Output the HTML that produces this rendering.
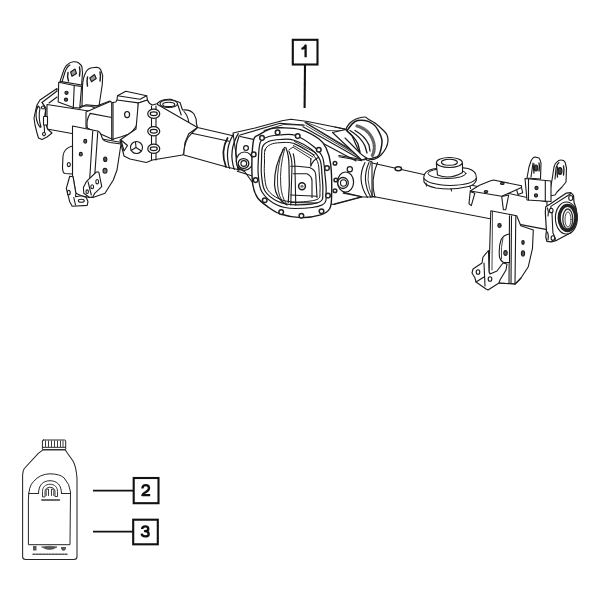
<!DOCTYPE html>
<html><head><meta charset="utf-8">
<style>
html,body{margin:0;padding:0;background:#fff;width:600px;height:600px;overflow:hidden}
svg{position:absolute;left:0;top:0}
.t{font-family:"Liberation Sans",sans-serif;font-weight:bold}
</style></head><body>
<svg width="600" height="600" viewBox="0 0 600 600">
<g fill="#fff" stroke="#1a1a1a" stroke-width="1.1" stroke-linejoin="round" stroke-linecap="round">
<!-- LEFT TUBE -->
<path d="M47,104.5 L185,126 L185,154 L47,129 Z"/>
<path d="M49,103 L57,97 M80,106.5 Q88,104 95,108" fill="none"/>
<!-- left flange -->
<path d="M57,88.5 L40,100 L37,105 L35.5,111 L34,118 L35,125 L37,133 L38.5,138 L42,139.5 L47,137 L52,133 L47.5,129 Q44,120 46,108 L42,102.5 L57,91 Z"/>
<path d="M42,102.5 Q47,108 45,115 L44,125 Q45,132 44,136" fill="none"/>
<path d="M38,106 Q34,115 38,124 Q40,128 41,127 Q38,118 40,108 Z"/>
<rect x="43.5" y="116.5" width="4" height="8.5" rx="0.5"/>
<circle cx="43" cy="107.5" r="1.5"/>
<circle cx="44" cy="134" r="1.5"/>
<!-- upper tab 2 (back) -->
<path d="M82.5,86 Q83,78 85.25,73.6 Q87,69 90.75,68 L96.25,67.2 Q100,67.5 100.8,70 L102.7,75.4 L102.2,85 L99,106 L82,106 Z"/>
<path d="M89.8,78 L94.5,74.5 L96.25,78.5 L91.5,81.8 Z" stroke-width="1.1" fill="#999"/>
<path d="M87.5,77 Q86.5,81 87.5,86 M100,72 Q101,76 100,81" fill="none" stroke-width="1.4"/>
<!-- upper tab 1 -->
<path d="M60,81.4 L63.25,71.75 Q65,66 67.8,64.4 Q70,62 73.3,61.7 Q77,61.5 78.8,63 Q81.5,65 82,67.2 L82.5,72.7 L81.6,85 Z"/>
<path d="M62,81.8 L65,72 Q67,66.5 70,65" fill="none"/>
<path d="M70.6,72 L75,69 L76.5,73.5 L72,76.3 Z" stroke-width="1.1" fill="#999"/>
<path d="M68,72.5 Q67,76.5 68.5,81 M79.5,67 Q80.5,71 79.5,76" fill="none" stroke-width="1.4"/>
<path d="M58.7,82.3 L74.25,85.5 L81.6,86.4 L79.75,108 L73.3,107.5 L58.2,102 Z"/>
<path d="M74.25,85.5 L73.3,107.5" fill="none"/>
<circle cx="66.5" cy="92.8" r="1.6" fill="#555"/>
<circle cx="66" cy="99.7" r="1.6" fill="#555"/>
<path d="M79.75,108 L86.2,104.7 L97.2,105.7 L110,101" fill="none"/>
<!-- sleeve block -->
<path d="M86,112 L110.3,101.5 L113,103 L113,139.5 L86,127.6 Z"/>
<path d="M90,113.9 Q86,120 87.3,127.6 M90,113.4 L111.7,117.5" fill="none"/>
<!-- big bracket -->
<path d="M111.7,102.8 L115.8,102 L117,100 L117.5,95.8 L125.8,91.25 L146.7,95.8 L147.5,100 L138.3,102.9 L138.3,120 Q137,128 129,134 L121.3,136.8 L111.7,139.5 Z"/>
<path d="M113,102.5 L113,139.5 M117.5,95.8 L140,99.2 L146.7,95.8 M117,100 L138.3,102.9" fill="none"/>
<ellipse cx="127.1" cy="114.6" rx="2.5" ry="3.1" stroke-width="1.2"/>
<!-- ladder plate -->
<path d="M138.3,103 L147.5,100 Q149,104 152.5,105 L156.9,103.75 L160,101.25 Q165,98.5 171.25,99.4 L180,102.5 L182.5,110 Q190,109 194,114 Q197,119 196.5,124 L197.5,127.5 L188.75,133.75 L185,142.5 L183.75,153.75 L182.5,155 L152.5,160 L146.25,162.5 L130,159 L124,156 L120,140 L136,129 Z"/>
<ellipse cx="168.75" cy="103.75" rx="8.75" ry="3.75"/>
<ellipse cx="168.75" cy="104.4" rx="6" ry="2.2"/>
<path d="M177.5,104 L181.25,115" fill="none"/>
<path d="M184,111.5 Q188,116 188.75,122" fill="none"/>
<path d="M157.5,104.4 L197.5,127.5" fill="none"/>
<path d="M121,140 L127.5,145.5 L124,151 Z" fill="#fff"/><circle cx="136.5" cy="147.5" r="6"/>
<path d="M131,150.5 L136,147.5 L141.5,151 M136,147.5 L135.5,142" fill="none"/>
<path d="M151.5,106 L151.5,160 M156,106 L156,160" fill="none"/>
<g stroke-width="1.2">
<ellipse cx="153.75" cy="113.75" rx="6" ry="4.6"/>
<ellipse cx="153.75" cy="131.25" rx="6" ry="4.6"/>
<ellipse cx="153.75" cy="148.75" rx="6" ry="4.6"/>
<ellipse cx="153.75" cy="113.75" rx="3.5" ry="1.8"/>
<ellipse cx="153.75" cy="131.25" rx="3.5" ry="1.8"/>
<ellipse cx="153.75" cy="148.75" rx="3.5" ry="1.8"/>
</g>
<!-- lower bracket -->
<path d="M72.5,126 L98.5,131.25 Q100.5,132.5 102,137.5 Q103,140.5 105,141 L110,142.5 L121,144 L117,170 L113.3,180 L105,193.3 L93,197.5 L89.7,197.5 L81.3,195.8 L75.9,193.3 L73,176.7 L72.5,176 Z"/>
<path d="M92.75,131 L89.7,179 M97.75,132 L94.7,176" fill="none"/>
<ellipse cx="85.25" cy="141.25" rx="1.5" ry="1.9" fill="#666"/>
<ellipse cx="80.8" cy="154.2" rx="1.5" ry="1.8" fill="#666"/>
<ellipse cx="105.25" cy="159.25" rx="1.6" ry="2.3" fill="#555"/>
<ellipse cx="105" cy="170.8" rx="2" ry="2.4" fill="#777"/>
<path d="M72.5,146 Q64,148 63,156 L62.5,167 Q62.5,173 65,173.5 L72.5,174 Z"/>
<ellipse cx="68.8" cy="164.6" rx="1.6" ry="2"/>
<path d="M69.7,176.25 L73,176.7 L75.9,193.3 L75.5,196.7 L81.3,195.8 L86.3,197.5 L88,201.7 L87.2,205.4 L72.2,206.25 L69.7,201.7 L66.3,188.3 L68,182.5 Z"/>
<path d="M73.8,197.5 L75.5,205" fill="none"/>
<ellipse cx="68.8" cy="192.5" rx="1.4" ry="2.3"/>
<ellipse cx="81.3" cy="200.8" rx="3" ry="1.5"/>
<path d="M86.3,181.7 L96.3,172 L98.8,172 L101.75,186.7 L94.7,193.3 L93,196.7 L89.7,197.5 L83.8,193.3 L83.4,187.5 Z"/>
<path d="M88,181.7 L91.3,195" fill="none"/>
<ellipse cx="92.2" cy="186.7" rx="1.4" ry="2"/>
<ellipse cx="97.2" cy="181.7" rx="1.4" ry="2.2"/>
<ellipse cx="87.2" cy="191.7" rx="1.2" ry="1.8"/>
</g><g fill="#fff" stroke="#1a1a1a" stroke-width="1.1" stroke-linejoin="round" stroke-linecap="round">
<!-- CENTER TUBE L -->
<path d="M197.5,127.5 L233,135.7 L240,137 L240,170 L226.6,167 L183.75,155 Q184,140 191.7,133.3 Z"/>
<path d="M191.7,133.3 L229,141.3" fill="none"/>
<!-- RIGHT TUBE -->
<path d="M370,162.5 L547,202 L547,229.6 L372,196.3 Z"/>
<!-- HOUSING BODY -->
<path d="M233,133 L255,128 L282,120.7 L291,119.2 L307.5,121.5 L345,129 L346,132 L367,160 L372,162 L372,197 L362,197 L334,204.5 L331,204 L320,210 L296,214 L276,208 L262,198 L255,186 L245,172 L238,168 Z"/>
<path d="M240,135 L280,123.3 L303.3,125" fill="none"/>
<path d="M305,122.5 L366.7,160 M303,126.7 L361.7,160 M300,131 L356,161" fill="none"/><path d="M307,123.5 L364,157 M306,125.5 L362,158.5 M306,122.2 L327,130.5 L345,131" fill="none" stroke-width="0.8"/><path d="M264,130.5 L283.5,124.5 L304.5,125.2" fill="none" stroke-width="0.9"/>
<path d="M339,156.7 L361.7,160.8 M343.3,193.3 L361.7,196.7" fill="none"/>
<!-- left collar -->
<path d="M227.6,138 Q220,151 226,167" fill="none" stroke-width="1.7"/>
<path d="M233.4,134.6 Q224,149 229.5,168.4 M238.2,133.6 Q228,151 234.3,169.4 M239.2,135.5 Q233,151 238.2,170.4" fill="none" stroke-width="1.2"/>
<path d="M240.1,136.5 L255.6,139.9 M237.2,171.3 L255.6,177.1" fill="none"/>
<!-- left boss -->
<ellipse cx="244.5" cy="161.2" rx="8.2" ry="9.2" stroke-width="1.2"/>
<ellipse cx="243.5" cy="163.5" rx="5.3" ry="4.8" stroke-width="1.3"/>
<ellipse cx="243.8" cy="163.5" rx="2.9" ry="2.9"/>
<circle cx="246" cy="148.1" r="2.4" stroke-width="1.2"/>
<!-- right boss -->
<ellipse cx="345.6" cy="182.1" rx="8" ry="10.1" stroke-width="1.2"/>
<ellipse cx="343" cy="183" rx="5.3" ry="5.5" stroke-width="1.3"/>
<ellipse cx="343.5" cy="183" rx="3" ry="3.2"/>
<circle cx="349.8" cy="169.3" r="2.6" stroke-width="1.2"/>
<path d="M338.8,155.5 L364.4,160 M343.3,192.2 L361.7,196.8 M334,204 L361.7,196.8" fill="none"/>
<!-- pinion flange -->
<path d="M332.5,132.5 L346,129.5 Q356,134 360,143.5 Q364,152 366.7,158.3 L361.7,160 Z"/>
<path d="M346.0,129.5 C345.8,128.2 349.0,124.0 350.0,123.0 C351.0,122.0 354.5,119.6 356.0,119.0 C357.5,118.4 363.8,117.0 365.0,117.0 C366.2,117.0 367.0,118.4 368.0,119.0 C369.0,119.6 373.4,121.8 375.0,123.0 C376.6,124.2 382.8,129.8 384.0,131.0 C385.2,132.2 386.6,134.0 387.0,135.0 C387.4,136.0 388.1,139.7 388.0,141.0 C387.9,142.3 386.7,146.6 386.0,148.0 C385.3,149.4 382.1,153.9 381.0,155.0 C379.9,156.1 376.2,158.6 375.0,159.0 C373.8,159.4 370.5,159.6 369.0,159.0 C367.5,158.4 361.7,155.3 360.0,153.0 C358.3,150.7 353.4,138.3 352.0,136.0 C350.6,133.7 346.2,130.8 346.0,129.5 Z" stroke-width="1.2"/>
<path d="M347.0,130.5 C348.3,129.0 352.0,123.2 355.0,121.5 C358.0,119.8 362.0,120.1 365.0,120.5 C368.0,120.9 370.8,122.4 373.0,124.0 C375.2,125.6 376.5,127.2 378.0,130.0 C379.5,132.8 381.8,136.8 382.0,141.0 C382.2,145.2 380.5,152.2 379.0,155.0 C377.5,157.8 374.0,157.5 373.0,158.0" fill="none" stroke-width="1.5"/>
<path d="M357,126 Q371,130 374,144 Q375,151 372,156" fill="none" stroke="#666" stroke-width="3.2" stroke-dasharray="1.8 1.2"/>
<path d="M347,131 Q354,136 358,144 L360,152 M350,130.5 Q361,137 365,146 L367,153 M355,130.5 Q365,136 369,145 L370,151" fill="none" stroke-width="1.3"/>
<path d="M345,138 L360,153 M335,127 L346,129.5 M369,159 L373,158" fill="none"/>
<!-- right collar -->
<path d="M365,162.5 Q356,180 367.5,197.5 M369,162.5 Q361,180 371,197.5 M377.5,162.5 Q370,180 375,197.5" fill="none"/><path d="M371,162 Q364,180 373,197.5" fill="none" stroke-width="0.8"/>
<ellipse cx="398.3" cy="168.7" rx="3.2" ry="2" stroke-width="1.5"/>
<!-- COVER FLANGE -->
<path d="M253.7,139.7 C252.6,144.0 252.1,153.3 251.9,160.8 C251.8,168.3 251.9,178.5 252.8,184.6 C253.7,190.7 254.9,193.8 257.4,197.5 C259.8,201.2 263.7,203.8 267.5,206.6 C271.3,209.3 274.8,212.2 280.3,214.0 C285.8,215.8 293.8,217.4 300.5,217.6 C307.2,217.8 315.7,216.4 320.6,214.9 C325.5,213.4 328.0,211.7 329.8,208.5 C331.6,205.3 331.5,202.9 331.6,195.6 C331.8,188.3 331.6,172.4 330.7,164.5 C329.8,156.6 328.1,152.3 326.1,148.0 C324.1,143.7 323.1,141.9 318.8,138.8 C314.5,135.8 306.6,131.5 300.5,129.7 C294.4,127.9 287.0,128.0 282.1,127.8 C277.2,127.6 275.2,127.5 271.2,128.7 C267.2,129.9 261.2,133.4 258.3,135.2 C255.4,137.0 254.8,135.4 253.7,139.7 Z" stroke-width="1.4"/>
<path d="M260.2,142.5 C261.7,138.5 264.2,138.2 267.5,137.0 C270.8,135.8 275.4,135.3 280.0,135.0 C284.6,134.7 289.4,133.3 295.0,135.2 C300.6,137.1 308.7,142.5 313.3,146.2 C317.9,149.8 320.6,152.3 322.5,157.1 C324.4,161.9 324.4,169.2 325.0,175.0 C325.6,180.8 326.5,187.0 326.1,192.0 C325.7,197.0 327.7,202.1 322.5,204.8 C317.3,207.6 302.6,208.5 295.0,208.5 C287.4,208.5 282.1,207.6 276.6,204.8 C271.1,202.1 265.1,197.0 262.0,192.0 C258.9,187.0 258.9,180.2 258.3,175.0 C257.7,169.8 258.0,166.2 258.3,160.8 C258.6,155.4 258.7,146.5 260.2,142.5 Z" stroke-width="1.2"/>
<path d="M262.5,147.0 C263.7,143.8 265.6,142.8 268.5,141.5 C271.4,140.2 275.8,139.7 280.0,139.5 C284.2,139.3 288.8,138.5 294.0,140.2 C299.2,141.9 307.2,146.2 311.5,149.5 C315.8,152.8 318.2,155.8 320.0,160.0 C321.8,164.2 321.5,169.7 322.0,175.0 C322.5,180.3 323.2,187.5 322.8,192.0 C322.4,196.5 324.1,199.9 319.5,202.0 C314.9,204.1 301.9,204.9 295.0,204.8 C288.1,204.7 283.0,203.8 278.0,201.5 C273.0,199.2 267.8,195.4 265.0,191.0 C262.2,186.6 262.1,180.0 261.5,175.0 C260.9,170.0 261.3,165.7 261.5,161.0 C261.7,156.3 261.3,150.2 262.5,147.0 Z" stroke-width="1.2" fill="none"/>
<path d="M265.0,150.0 C266.0,147.1 268.0,145.7 270.5,144.5 C273.0,143.3 276.2,142.9 280.0,142.7 C283.8,142.5 288.6,141.8 293.5,143.4 C298.4,145.0 305.5,149.0 309.5,152.0 C313.5,155.0 315.9,157.7 317.5,161.5 C319.1,165.3 318.9,170.1 319.3,175.0 C319.7,179.9 320.4,186.9 320.0,191.0 C319.6,195.1 321.2,197.7 317.0,199.5 C312.8,201.3 301.3,202.1 295.0,202.0 C288.7,201.9 283.6,200.9 279.0,198.8 C274.4,196.7 269.9,193.5 267.5,189.5 C265.1,185.5 265.0,179.6 264.5,175.0 C264.0,170.4 264.4,166.2 264.5,162.0 C264.6,157.8 264.0,152.9 265.0,150.0 Z" stroke-width="1" fill="none"/>
<path d="M284.5,147.5 Q274,165 274.5,185 Q275.5,199 287,205" fill="none" stroke-width="1.2"/>
<path d="M283,149 Q276.5,167 277.6,185 Q278.5,198 284,203 M284.5,149.5 Q279.5,168 280.75,185 Q281.5,197 286,203" fill="none" stroke-width="0.9"/>
<path d="M285.75,147.5 Q289,155 289,166 Q290,185 288.25,202.5" fill="none" stroke-width="1.2"/>
<path d="M288.9,151.25 Q292,158 292,166.25 L290.75,205 M293.25,153.75 Q295,160 295,170 L295.75,205" fill="none"/>
<path d="M290.75,166.25 L297,166.25 L309.5,167.5 Q315.75,170 315.75,175 L317,197.5" fill="none"/>
<path d="M293.25,173.75 L307,173.75 Q312,176 312,181.25 L312,197.5" fill="none"/>
<path d="M290.75,195 L317,196.25 M290.75,202.5 L317,203" fill="none"/>
<path d="M288.9,150 L293.25,146.9 M294.5,141.5 L316,153 M294,143.5 L314.5,155 M293.5,145.5 L313,157 M293.5,147.5 L311.5,159" fill="none" stroke-width="0.9"/>
<path d="M310.75,158.75 L310.75,166.25 Q313,160 318.25,157.5" fill="none"/>
<circle cx="302" cy="186.25" r="3.4" stroke-width="1.5"/>
<circle cx="302" cy="186.25" r="1.6" fill="#777" stroke="none"/>
<g stroke-width="1.5" fill="#fff" stroke="#222">
<circle cx="262" cy="137.9" r="2.3"/><circle cx="277.6" cy="132.4" r="2.3"/><circle cx="297.7" cy="136.1" r="2.3"/><circle cx="318.8" cy="149.8" r="2.3"/><circle cx="327" cy="168.1" r="2.3"/><circle cx="328" cy="195.6" r="2.3"/><circle cx="321.5" cy="211.2" r="2.3"/><circle cx="301.4" cy="215.8" r="2.3"/><circle cx="281.2" cy="212.1" r="2.3"/><circle cx="264.7" cy="200.2" r="2.3"/><circle cx="255.6" cy="180.1" r="2.3"/><circle cx="253.7" cy="154.4" r="2.3"/>
<circle cx="335" cy="163.3" r="1.8"/><circle cx="335.8" cy="180" r="1.8"/><circle cx="335" cy="190.8" r="1.8"/>
</g>

</g>

<g fill="#fff" stroke="#1a1a1a" stroke-width="1.1" stroke-linejoin="round" stroke-linecap="round">
<!-- spring seat -->
<path d="M423.8,177 Q424,171 433,169 Q450,165.5 468,168.5 Q476.5,171 476.3,177.5 L476.3,180.5 Q474,186 466,187 Q452,190.5 436,188 Q426,186 424,182 Z"/>
<path d="M424,178.5 Q428,184.5 450,185.5 Q472,185 476.2,178.5" fill="none"/>
<ellipse cx="447" cy="173.5" rx="19" ry="5" fill="none" stroke-width="1"/>
<path d="M436.3,163.5 L437.5,175 Q450,180 462.5,172.5 L462.5,163.5 Z"/>
<ellipse cx="449.4" cy="162.5" rx="13" ry="5"/>
<ellipse cx="449.4" cy="162.3" rx="8" ry="3"/>
<path d="M426,183 L426.5,186 M451,188.5 L451.5,191 M470,186 L470.5,188.5" fill="none"/>
<!-- top bracket -->
<path d="M470.2,191 L479.5,185.2 L490,181.1 L493.5,180 L521.5,185.7 L521.5,187.5 L509.8,192.8 L501.7,196.3 Z"/>
<path d="M470.2,191.5 L469,203.8 L471.3,205.6 L474.8,193.3 Z"/>
<path d="M501.7,196.5 L503.4,209.7 L505.8,209.7 L508.7,195 Z"/>
<path d="M516.8,190.5 L518,194.5 L522.7,192.75 L521.5,187.5" fill="none"/>
<ellipse cx="502.3" cy="183.4" rx="1.8" ry="1.1" fill="#555"/>
<ellipse cx="486" cy="191.6" rx="1.8" ry="1.1" fill="#555"/>
<!-- right tabs -->
<path d="M552,180 L554,167 Q555,163 557,162 Q558.5,160 561,160 Q564,160 565,162 L566.5,168 L566,182 L562,187 L557,192 L555,195 L549,196 Z"/>
<path d="M555,179 L556,168 Q557,164 559,162.5" fill="none"/>
<ellipse cx="560" cy="171" rx="2" ry="3.4" fill="#444"/>
<path d="M557.5,167 Q556.5,172 557.5,177 M563.5,166 Q564.5,170 563.5,175" fill="none" stroke-width="1.3"/>
<path d="M527,178 L529,167 L531,161 Q533,157 535,157 L539,158 Q540.5,160 541,163 L540.5,179 Z"/>
<path d="M531,177 L533,163" fill="none"/>
<ellipse cx="536" cy="168" rx="1.8" ry="3" fill="#444"/>
<path d="M534,164 Q533,168 534,173 M539,163 Q540,167 539,171" fill="none" stroke-width="1.3"/>
<path d="M525,178.5 L551,181 L551,201.5 L527,200 Z"/>
<path d="M528.5,179 L528.5,200 M545.3,180.5 L545.3,201.3" fill="none"/>
<circle cx="536.5" cy="188" r="1.6" fill="#555"/>
<circle cx="536" cy="195.5" r="1.6" fill="#555"/>
<!-- wheel end flange -->
<path d="M545.8,206.7 L550.2,204 L566.4,193.1 L570.8,192.6 L573.5,195.3 L574,202.3 L576.2,208.8 L576.9,217.5 L575,227 L570.75,232.7 L556.7,240.3 L551.25,241.9 L546.9,241.3 L545.8,237 L546.4,230.5 L545.3,212 Z" stroke-width="1.2"/>
<path d="M550.7,206.7 Q552.5,213 552.3,219.7 L552.9,232.7 L555.6,239.2 M551.25,206.1 L567.5,195.8 L571,193.5" fill="none"/>
<path d="M547.5,208 Q549,212 548,216 M547.5,232 Q549,236 548,240" fill="none"/>
<ellipse cx="566.4" cy="218" rx="11" ry="16"/>
<ellipse cx="567.5" cy="218" rx="8.3" ry="12.6" fill="none" stroke="#222" stroke-width="3.3"/>
<ellipse cx="567.8" cy="219" rx="5" ry="10" fill="none" stroke="#333" stroke-width="1.3"/>
<ellipse cx="568" cy="219.5" rx="3" ry="7.6" fill="none" stroke-width="0.8"/>
<ellipse cx="570.75" cy="198" rx="2" ry="2.5"/>
<ellipse cx="551.25" cy="210.5" rx="1.8" ry="2.3"/>
<ellipse cx="552.9" cy="238.1" rx="1.8" ry="2.3"/>
<!-- lower right bracket -->
<path d="M490.8,210.8 L516.7,215.8 L520.8,225.8 L533.3,230 L532.5,248.3 L528.3,266.7 L521,278 L515,284 L499,283 L489,272 Z"/>
<path d="M509.5,215.8 L509,283 M511.5,216 L511,283.2 M515.8,216.5 L515,284" fill="none"/><path d="M492.5,211.5 L492,270" fill="none" stroke-width="0.8"/>
<ellipse cx="499.5" cy="225.5" rx="1.7" ry="1.9" fill="#555"/>
<ellipse cx="523" cy="242.5" rx="1.2" ry="1.9" fill="#555"/>
<ellipse cx="523" cy="253.5" rx="1.6" ry="2.6" fill="#555"/>
<path d="M509.5,234 Q503,235 501,240 Q498.5,247 499.5,257 Q501,262 504.5,262.5 L509.5,262.5 Z"/><path d="M503,238 Q500.5,247 501.5,259" fill="none" stroke-width="0.8"/>
<ellipse cx="505.5" cy="253" rx="1.7" ry="2.4" fill="#666"/>
<path d="M488.5,250.5 L483,257 L482,263 L473,269 L472,273 L475,278 L476,282 L486,289 L488,290 L499,283 L500,280 L506,270 L507,264 L503,263 L497,271 L490,274 L489,272 Z"/>
<path d="M484,263 L485,286 M476,282 L484,277" fill="none"/>
<ellipse cx="478" cy="272" rx="1.8" ry="2.3"/>
<ellipse cx="490" cy="279" rx="1.8" ry="2.3"/>
<path d="M499,283 L515,284 Q519,281 521,278" fill="none"/>
</g>


<g fill="none" stroke="#262626" stroke-width="1" stroke-linejoin="round" stroke-linecap="round">
<!-- bottle -->
<path d="M43,449.8 L38.3,453.3 L24.3,468.5 Q22.6,471 22.6,475 L22.6,556.5 Q22.6,559.5 25.6,559.5 L74,559.5 Q77,559.5 77,556.5 L77,478 Q76,466 73,461 L67.5,453.3 L65.2,449.8 Z" stroke-width="1.05"/>
<rect x="42.4" y="440" width="23.3" height="9.8" rx="1" stroke-width="1"/>
<path d="M42.6,447.3 L65.5,447.3" />
<path d="M45.5,441 V446.5 M48.5,441 V446.5 M51.5,441 V446.5 M54.5,441 V446.5 M57.5,441 V446.5 M60.5,441 V446.5 M63,441 V446.5" stroke-width="0.9"/>
<path d="M28.4,544.3 L28.4,500 Q28.4,486 33.7,481.3 Q40,474 50,473.8 Q60,474 64,477.8 Q69.8,484 70.5,492 L70,544.3 Z"/>
<path d="M28.6,493.5 L38.5,493.5 M61.5,493.5 L70.5,493.5"/>
<path d="M38.5,493.5 C38.5,485 43,480.75 50,480.75 C57,480.75 61.5,485 61.5,493.5" stroke-width="1"/>
<path d="M42.5,496.5 V491.5 C42.5,487 45.5,484.25 50,484.25 C54.5,484.25 57.5,487 57.5,491.5 V496.5 L55,496.5 V491.5 C55,489 53,487.25 50,487.25 C47,487.25 45,489 45,491.5 V496.5 Z" stroke-width="0.9"/>
<path d="M46.2,495.5 V490.5 Q46.5,488.5 48.5,489 L48.5,495.5 M53.8,495.5 V490.5 Q53.5,488.5 51.5,489 L51.5,495.5" stroke-width="0.9"/>
<path d="M41.8,500 L59.5,500" stroke="#333" stroke-width="1.4" stroke-dasharray="1.8 0.7"/>
<rect x="33" y="546" width="3.5" height="4.5" fill="#555" stroke="none"/>
<path d="M42,547 Q49.5,545.5 57,547 Q49.5,552 42,547 Z" fill="#555" stroke="#555" stroke-width="0.8"/>
<path d="M61,547 H66 Q66,550.8 63.5,550.8 Q61,550.8 61,547 Z" fill="#555" stroke="none"/>
<path d="M33,554.3 L67,554.3" stroke="#555" stroke-width="1.5" stroke-dasharray="2 1.2"/>
</g>

<!-- labels -->
<g fill="none" stroke="#111" stroke-width="2.1">
<rect x="292.8" y="39.8" width="24.7" height="24.7"/>
<path d="M305,64.5 L304.6,108"/>
<rect x="133.7" y="478" width="24.8" height="25.2"/>
<path d="M93,490.6 L133.7,490.6" stroke-width="1.7"/>
<rect x="133.2" y="519.7" width="24.6" height="24.6"/>
<path d="M93,531.6 L133.2,531.6" stroke-width="1.7"/>
</g>
<g fill="none" stroke="#111" stroke-width="2.3" stroke-linecap="butt" stroke-linejoin="round">
<path d="M301.5,49 Q304.3,48.3 305.6,45.5 L305.6,57.3"/>
<path d="M142.4,488.6 Q142.4,485.1 145.8,485.1 Q149,485.1 149,488 Q149,490.3 145.9,492 Q142.6,493.8 142.4,495.2 L150.2,495.2"/>
<path d="M142.1,529 Q142.3,526.4 145.3,526.4 Q148.3,526.4 148.3,529 Q148.3,531.2 145,531.2 Q148.7,531.2 148.7,534.2 Q148.7,536.4 145.2,536.4 Q141.9,536.4 141.7,533.7"/>
</g>
</svg>
</body></html>
